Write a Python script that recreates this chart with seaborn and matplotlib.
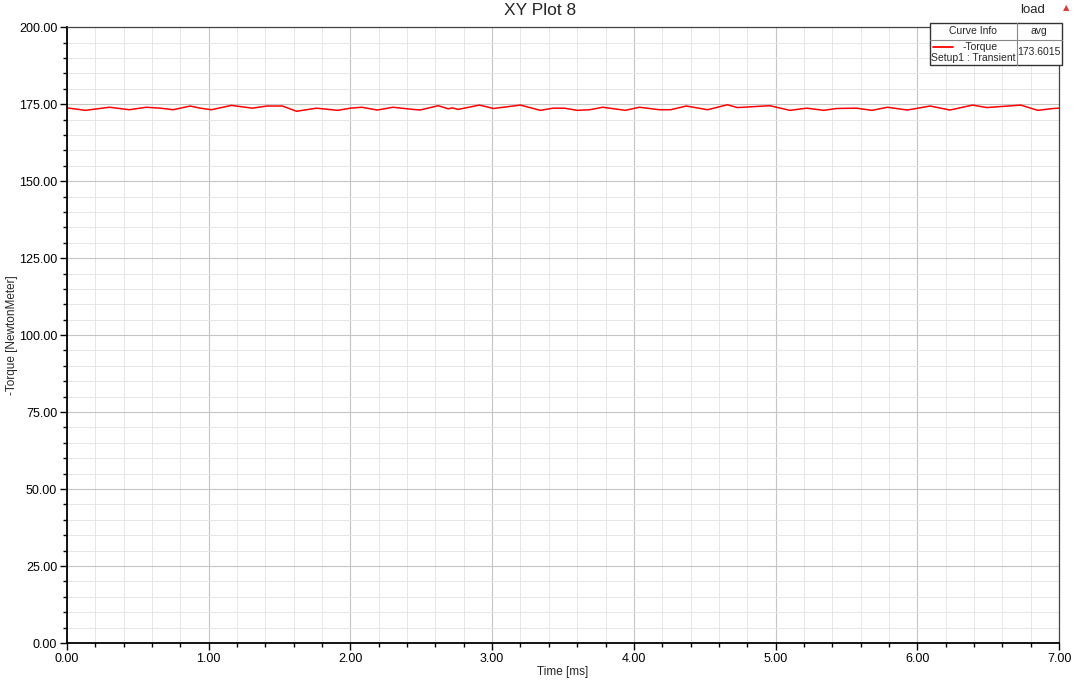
import numpy as np
import pandas as pd
import seaborn as sns
import matplotlib.pyplot as plt
from matplotlib.patches import Rectangle
from matplotlib.lines import Line2D
from matplotlib.ticker import MultipleLocator, FormatStrFormatter

# time in ms, -Torque in NewtonMeter
time_ms = [0.00, 0.13, 0.30, 0.44, 0.56, 0.66, 0.75, 0.87, 0.94, 1.02,
           1.16, 1.31, 1.41, 1.52, 1.62, 1.76, 1.91, 2.00, 2.08, 2.19,
           2.30, 2.40, 2.49, 2.62, 2.69, 2.72, 2.76, 2.91, 3.01, 3.20,
           3.34, 3.43, 3.51, 3.60, 3.69, 3.78, 3.94, 4.04, 4.18, 4.26,
           4.37, 4.52, 4.66, 4.73, 4.96, 5.10, 5.22, 5.34, 5.43, 5.57,
           5.68, 5.79, 5.93, 6.09, 6.23, 6.39, 6.49, 6.73, 6.85, 6.96, 7.00]
torque = [173.8, 173.0, 174.0, 173.2, 174.0, 173.7, 173.2, 174.4, 173.7, 173.2,
          174.6, 173.7, 174.4, 174.4, 172.7, 173.7, 173.0, 173.7, 174.0, 173.1,
          174.0, 173.5, 173.1, 174.5, 173.5, 173.8, 173.3, 174.7, 173.6, 174.7,
          173.0, 173.7, 173.7, 173.0, 173.2, 174.0, 173.0, 174.0, 173.2, 173.2,
          174.4, 173.2, 174.8, 173.9, 174.5, 173.0, 173.7, 173.0, 173.6, 173.7,
          173.0, 174.0, 173.1, 174.4, 173.1, 174.7, 173.9, 174.7, 173.0, 173.6, 173.7]
curve_name = "-Torque"
setup_name = "Setup1 : Transient"
avg_value = "173.6015"

df = pd.DataFrame({"Time [ms]": time_ms, "-Torque [NewtonMeter]": torque})

sns.set_style("white")
plt.rcParams['font.family'] = ['Liberation Sans', 'DejaVu Sans']

fig = plt.figure(figsize=(10.8, 6.8), dpi=100)
ax = fig.add_axes([0.062, 0.0544, 0.9186, 0.9056])

sns.lineplot(data=df, x="Time [ms]", y="-Torque [NewtonMeter]", color="#ff0000",
             linewidth=1.1, ax=ax)

ax.set_xlim(0, 7)
ax.set_ylim(0, 200)
ax.xaxis.set_major_locator(MultipleLocator(1))
ax.xaxis.set_minor_locator(MultipleLocator(0.2))
ax.yaxis.set_major_locator(MultipleLocator(25))
ax.yaxis.set_minor_locator(MultipleLocator(5))
ax.xaxis.set_major_formatter(FormatStrFormatter("%.2f"))
ax.yaxis.set_major_formatter(FormatStrFormatter("%.2f"))

ax.grid(which="major", color="#c4c4c4", linewidth=0.8)
ax.grid(which="minor", color="#e6e6e6", linewidth=0.7)
ax.set_axisbelow(True)

ax.tick_params(which="major", direction="out", length=5, width=1, labelsize=9,
               colors="black", pad=2)
ax.tick_params(which="minor", direction="out", length=3, width=1, colors="black")
ax.tick_params(axis="x", which="both", bottom=True)
ax.tick_params(axis="y", which="both", left=True)

for side in ["left", "bottom"]:
    ax.spines[side].set_color("black")
    ax.spines[side].set_linewidth(1.3)
for side in ["top", "right"]:
    ax.spines[side].set_color("#444444")
    ax.spines[side].set_linewidth(0.9)

ax.set_xlabel("Time [ms]", fontsize=8.5, labelpad=1)
ax.set_ylabel("-Torque [NewtonMeter]", fontsize=8.5)
ax.yaxis.set_label_coords(-0.049, 0.5)

fig.text(0.5, 0.985, "XY Plot 8", ha="center", va="center", fontsize=12.5)
fig.text(0.968, 0.986, "load", ha="right", va="center", fontsize=9.5)
fig.text(0.99, 0.989, "\u25b2", ha="right", va="center", fontsize=6, color="#d04040",
         family=["DejaVu Sans"])

# curve info box (figure pixel coords)
W, H = 1080.0, 680.0
def fx(px):
    return px / W
def fy(py):
    return 1 - py / H

box_l, box_r, box_t, box_b, col_x, row_y = 930, 1062, 23, 65, 1017, 40
fig.patches.append(Rectangle((fx(box_l), fy(box_b)), fx(box_r) - fx(box_l),
                             fy(box_t) - fy(box_b), transform=fig.transFigure,
                             facecolor="white", edgecolor="#333333", linewidth=1,
                             zorder=5))
fig.add_artist(Line2D([fx(box_l), fx(box_r)], [fy(row_y), fy(row_y)],
                      transform=fig.transFigure, color="#888888", linewidth=0.8, zorder=6))
fig.add_artist(Line2D([fx(col_x), fx(col_x)], [fy(box_t), fy(box_b)],
                      transform=fig.transFigure, color="#888888", linewidth=0.8, zorder=6))
fig.text(fx(973), fy(31.5), "Curve Info", ha="center", va="center", fontsize=7.5, zorder=7)
fig.text(fx(1039), fy(31.5), "avg", ha="center", va="center", fontsize=7.5, zorder=7)
fig.add_artist(Line2D([fx(933), fx(953)], [fy(47), fy(47)], transform=fig.transFigure,
                      color="#ff0000", linewidth=1.3, zorder=7))
fig.text(fx(980), fy(47), curve_name, ha="center", va="center", fontsize=7.5, zorder=7)
fig.text(fx(973), fy(58), setup_name, ha="center", va="center", fontsize=7.5, zorder=7)
fig.text(fx(1039), fy(52), avg_value, ha="center", va="center", fontsize=7.5, zorder=7)

fig.savefig("out.png", dpi=100)
